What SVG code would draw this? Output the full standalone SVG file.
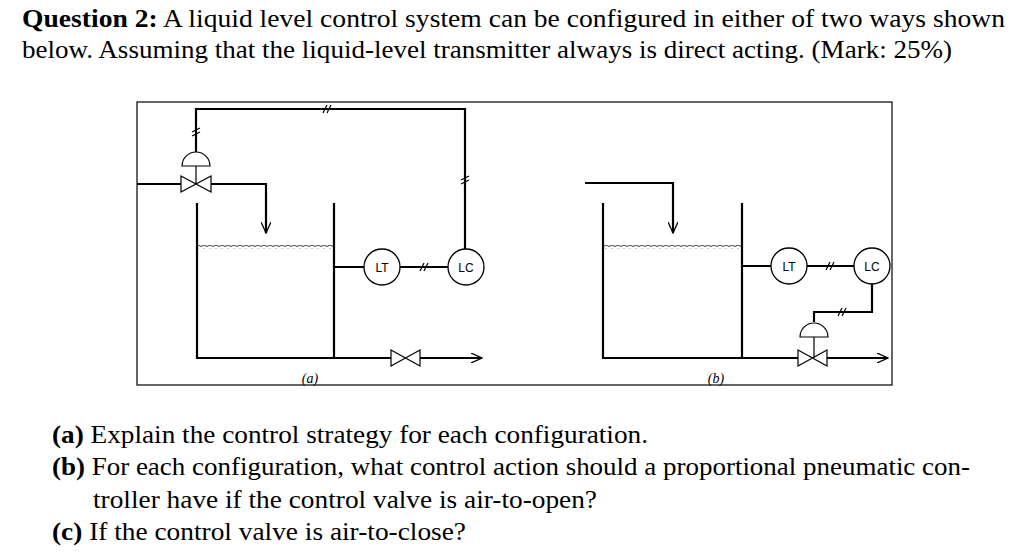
<svg xmlns="http://www.w3.org/2000/svg" width="1024" height="556" viewBox="0 0 1024 556">
<defs>
<style>
.t{font-family:"Liberation Serif",serif;font-size:26px;fill:#000}
.p{fill:none;stroke:#000;stroke-width:2.2}
.s{fill:none;stroke:#000;stroke-width:1.2}
.c{fill:#fff;stroke:#000;stroke-width:1.3}
.ct{font-family:"Liberation Sans",sans-serif;font-size:12px;text-anchor:middle}
</style>
<marker id="a" markerWidth="12" markerHeight="10" refX="11" refY="5" orient="auto" markerUnits="userSpaceOnUse"><path d="M0,0L11,5L0,10" fill="none" stroke="#000" stroke-width="1.3"/></marker>
<pattern id="wv" width="6" height="4" patternUnits="userSpaceOnUse"><path d="M0,1Q3,4 6,1" fill="none" stroke="#000" stroke-width="0.8"/></pattern>
</defs>
<rect width="1024" height="556" fill="#fff"/>
<text class="t" x="22" y="27" textLength="983" lengthAdjust="spacingAndGlyphs"><tspan font-weight="bold">Question 2:</tspan> A liquid level control system can be configured in either of two ways shown</text>
<text class="t" x="22" y="58" textLength="930" lengthAdjust="spacingAndGlyphs">below. Assuming that the liquid-level transmitter always is direct acting. (Mark: 25%)</text>
<rect x="137" y="102" width="755" height="283" class="s" stroke-width="1.5"/>
<g id="connectors">
<path class="p" d="M137,184H181M211,184H266V233" marker-end="url(#a)"/>
<path class="p" d="M197,203V358H334V203"/>
<path class="p" d="M334,358H391M420,358H482" marker-end="url(#a)"/>
<path class="p" d="M334,267H364M400,267H448"/>
<path class="p" d="M196,152V109H465V249"/>
<path class="p" d="M585,183H673V233" marker-end="url(#a)"/>
<path class="p" d="M603,203V358H742V203"/>
<path class="p" d="M742,358H798M827,358H888" marker-end="url(#a)"/>
<path class="p" d="M742,266H771M807,266H854"/>
<path class="p" d="M872,284V312H814V322"/>
<path class="s" d="M323,113L327,105M327,113L331,105M192,132L200,128M192,136L200,132M461,180L469,176M461,184L469,180M420,271L424,263M424,271L428,263M826,270L830,262M830,270L834,262M838,316L842,308M842,316L846,308"/>
<rect x="198" y="245" width="135" height="4" fill="url(#wv)"/>
<rect x="604" y="245" width="137" height="4" fill="url(#wv)"/>
</g>
<g id="valveA1"><path class="s" d="M182,166A14,14 0 0 1 210,166Z M196,166V184M181,176L211,192V176L181,192Z"/></g>
<g id="valveA2"><path class="s" d="M391,350L420,366V350L391,366Z"/></g>
<g id="valveB"><path class="s" d="M800,337A14,14 0 0 1 828,337Z M814,337V358M798,350L827,366V350L798,366Z"/></g>
<g id="LTa"><circle class="c" cx="382" cy="267" r="18"/><text class="ct" x="382" y="271.500">LT</text></g>
<g id="LCa"><circle class="c" cx="466" cy="267" r="18"/><text class="ct" x="466" y="271.500">LC</text></g>
<g id="LTb"><circle class="c" cx="789" cy="266" r="18"/><text class="ct" x="789" y="270.500">LT</text></g>
<g id="LCb"><circle class="c" cx="872" cy="266" r="18"/><text class="ct" x="872" y="270.500">LC</text></g>
<text x="310" y="383" font-family="Liberation Serif,serif" font-size="14" font-style="italic" text-anchor="middle">(a)</text>
<text x="716" y="383" font-family="Liberation Serif,serif" font-size="14" font-style="italic" text-anchor="middle">(b)</text>
<text class="t" x="52" y="443" textLength="596" lengthAdjust="spacingAndGlyphs"><tspan font-weight="bold">(a)</tspan> Explain the control strategy for each configuration.</text>
<text class="t" x="52" y="475" textLength="918" lengthAdjust="spacingAndGlyphs"><tspan font-weight="bold">(b)</tspan> For each configuration, what control action should a proportional pneumatic con-</text>
<text class="t" x="93" y="508" textLength="504" lengthAdjust="spacingAndGlyphs">troller have if the control valve is air-to-open?</text>
<text class="t" x="52" y="540" textLength="414" lengthAdjust="spacingAndGlyphs"><tspan font-weight="bold">(c)</tspan> If the control valve is air-to-close?</text>
</svg>
